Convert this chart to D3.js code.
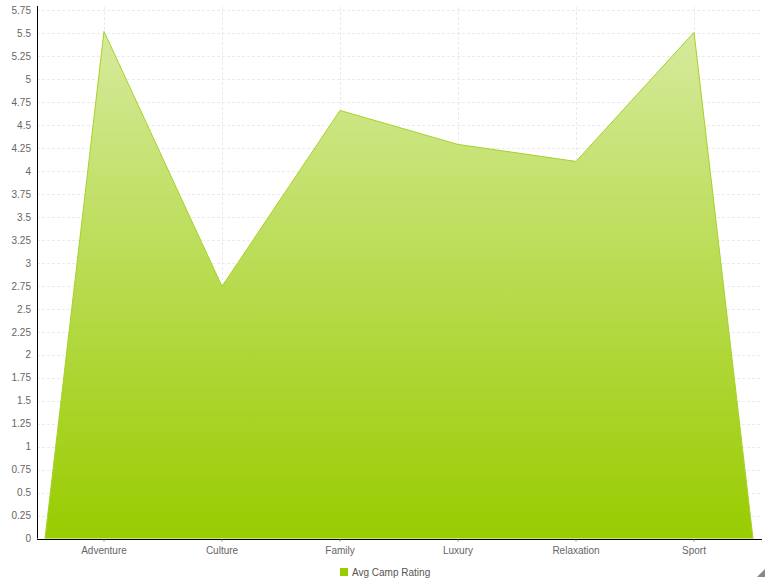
<!DOCTYPE html>
<html>
<head>
<meta charset="utf-8">
<script src="https://cdn.jsdelivr.net/npm/d3@7"></script>
<style>
  body { margin: 0; background: #fff; }
  svg { display: block; font-family: "Liberation Sans", Arial, sans-serif; }
</style>
</head>
<body>
<div id="chart"></div>
<script>
// Avg Camp Rating by camp type
const categories = ["Adventure", "Culture", "Family", "Luxury", "Relaxation", "Sport"];
const ratings = [5.52, 2.745, 4.66, 4.29, 4.105, 5.51];
const yTicks = d3.range(0, 5.76, 0.25);
const seriesName = "Avg Camp Rating";

const width = 768, height = 581;
const svg = d3.select("#chart").append("svg")
    .attr("width", width)
    .attr("height", height);

const axisX = 37, plotRight = 762;
const x = d3.scaleBand()
    .domain(categories)
    .range([45, 753]);

const y = d3.scaleLinear()
    .domain([0, 5.75])
    .range([538.5, 10.3]);

const cx = c => x(c) + x.bandwidth() / 2;

// Gradient
const defs = svg.append("defs");
const grad = defs.append("linearGradient")
    .attr("id", "areaGrad")
    .attr("x1", 0).attr("y1", 0).attr("x2", 0).attr("y2", 1);
grad.append("stop").attr("offset", "0%").attr("stop-color", "#d6ea9c");
grad.append("stop").attr("offset", "100%").attr("stop-color", "#99cc00");

// Horizontal grid
svg.append("g").selectAll("line")
    .data(yTicks.filter(d => d > 0))
    .enter().append("line")
    .attr("x1", axisX).attr("x2", plotRight)
    .attr("y1", d => Math.round(y(d)) + 0.5)
    .attr("y2", d => Math.round(y(d)) + 0.5)
    .attr("stroke", "#ebebeb")
    .attr("stroke-dasharray", "3,2");

// Vertical grid
svg.append("g").selectAll("line")
    .data(categories)
    .enter().append("line")
    .attr("x1", d => Math.round(cx(d)) + 0.5)
    .attr("x2", d => Math.round(cx(d)) + 0.5)
    .attr("y1", 7).attr("y2", y(0))
    .attr("stroke", "#ebebeb")
    .attr("stroke-dasharray", "3,2");

// Area points: zero at both band edges, values at band centres
const [r0, r1] = x.range();
const pts = [[r0, 0]]
    .concat(categories.map((c, i) => [cx(c), ratings[i]]))
    .concat([[r1, 0]]);

const area = d3.area()
    .x(d => d[0])
    .y0(y(0))
    .y1(d => y(d[1]));

svg.append("path")
    .datum(pts)
    .attr("d", area)
    .attr("fill", "url(#areaGrad)");

svg.append("path")
    .datum(pts)
    .attr("d", d3.line().x(d => d[0]).y(d => y(d[1])))
    .attr("fill", "none")
    .attr("stroke", "#a6d12a")
    .attr("stroke-width", 1);

// Axes
const yAxis = svg.append("g")
    .attr("transform", `translate(${axisX},0)`)
    .call(d3.axisLeft(y).tickValues(yTicks).tickSize(0).tickPadding(6)
        .tickFormat(d => d3.format("~g")(d)));
yAxis.select(".domain").attr("stroke", "#000").attr("d", `M0.5,6V${y(0)}`);
yAxis.selectAll("text").attr("fill", "#666").attr("font-size", "10px")
    .attr("font-family", "Liberation Sans, Arial, sans-serif");

svg.append("line")
    .attr("x1", axisX).attr("x2", plotRight)
    .attr("y1", Math.round(y(0)) + 0.5).attr("y2", Math.round(y(0)) + 0.5)
    .attr("stroke", "#000");

const xAxis = svg.append("g")
    .attr("transform", `translate(0,${Math.round(y(0)) + 0.5})`)
    .call(d3.axisBottom(x).tickSize(2).tickPadding(5));
xAxis.select(".domain").remove();
xAxis.selectAll("line").attr("stroke", "#888");
xAxis.selectAll("text").attr("fill", "#666").attr("font-size", "10px")
    .attr("font-family", "Liberation Sans, Arial, sans-serif");

// Legend
const legend = svg.append("g").attr("transform", "translate(340,568)");
legend.append("rect").attr("width", 8).attr("height", 8).attr("fill", "#99cc00");
legend.append("text")
    .attr("x", 12).attr("y", 7.5)
    .attr("fill", "#555").attr("font-size", "10px")
    .text(seriesName);

// Resize grip
svg.append("path")
    .attr("d", "M765,569L765,577L757,577Z")
    .attr("fill", "#888");
</script>
</body>
</html>
